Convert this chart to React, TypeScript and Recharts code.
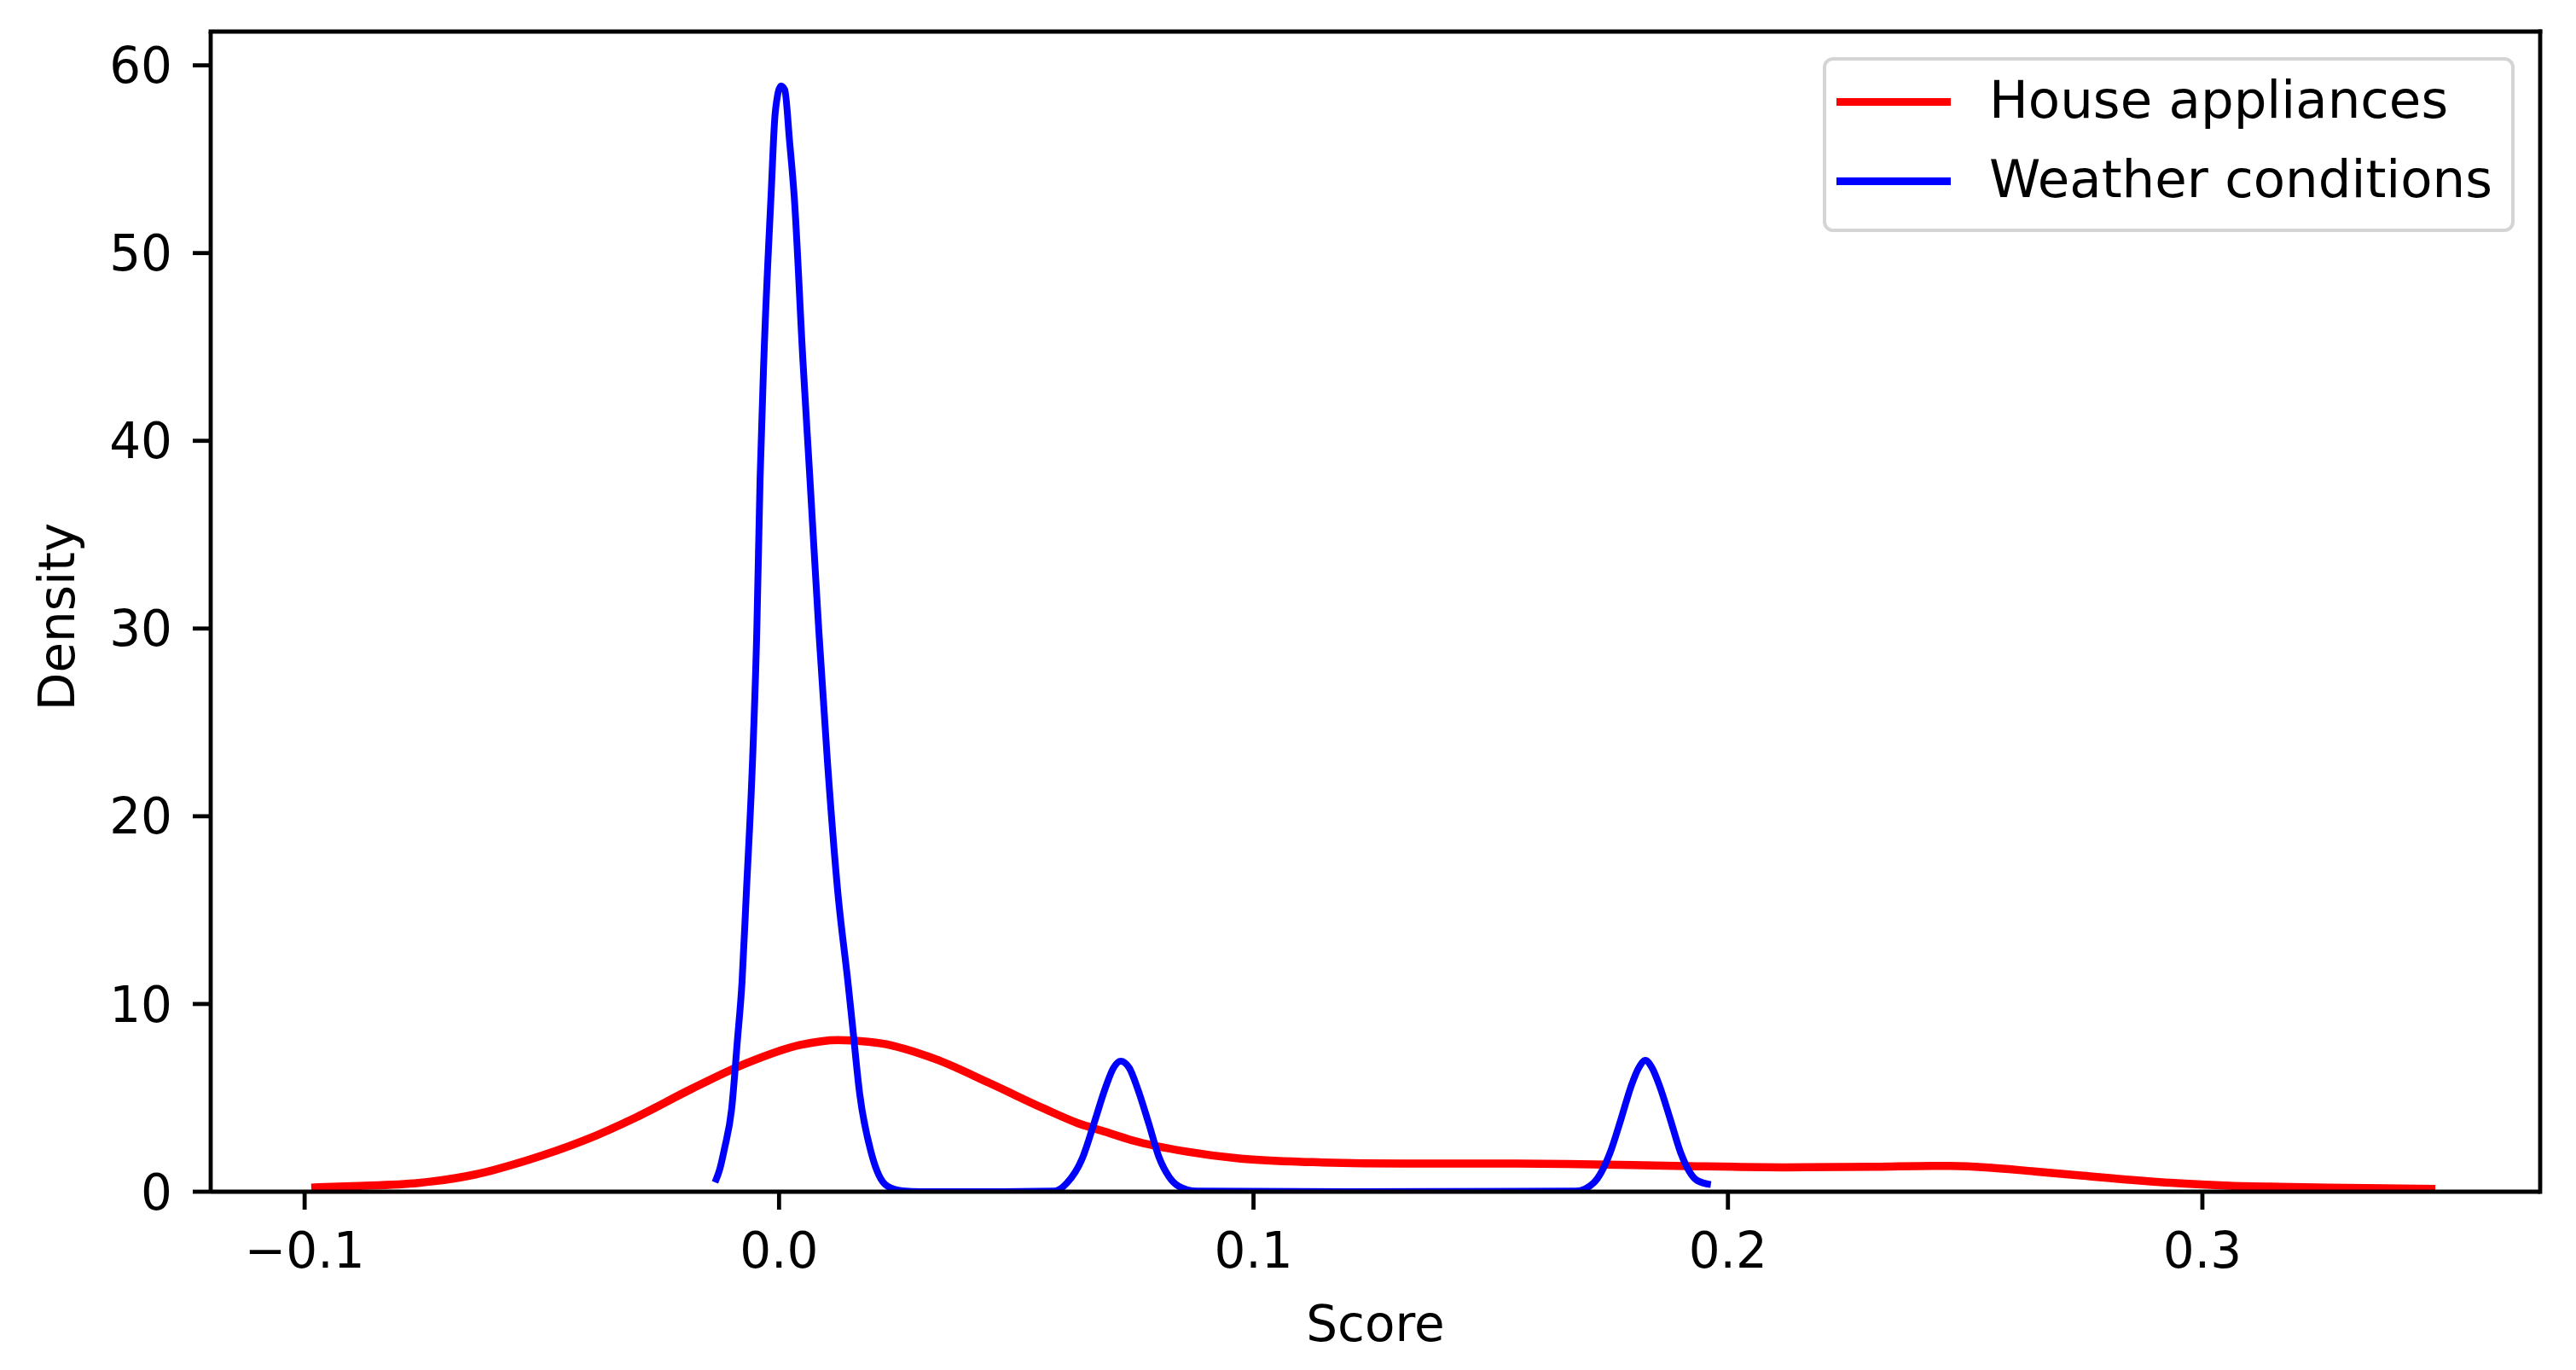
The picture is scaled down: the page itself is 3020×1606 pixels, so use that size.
import { LineChart, Line, XAxis, YAxis, Legend, Label, ReferenceLine } from "recharts";

const houseScores = [
  -0.0986, -0.09, -0.076, -0.064, -0.053, -0.041, -0.03, -0.0185, -0.007, 0.0045,
  0.0124, 0.0215, 0.033, 0.0445, 0.056, 0.063, 0.0686, 0.0744, 0.0858, 0.0973,
  0.1145, 0.1316, 0.1546, 0.166, 0.1889, 0.2118, 0.231, 0.243, 0.2543, 0.2646,
  0.2749, 0.2852, 0.2955, 0.3058, 0.3162, 0.3265, 0.3491,
];
const houseDensity = [
  0.22, 0.3, 0.47, 0.92, 1.68, 2.74, 3.98, 5.47, 6.83, 7.82,
  8.08, 7.9, 7.06, 5.77, 4.41, 3.65, 3.2, 2.74, 2.14, 1.76,
  1.56, 1.5, 1.5, 1.48, 1.38, 1.3, 1.33, 1.38, 1.3, 1.08,
  0.85, 0.62, 0.44, 0.32, 0.26, 0.22, 0.15,
];

const weatherScores = [
  -0.0135, -0.0125, -0.0115, -0.01, -0.0088, -0.0078, -0.0069, -0.0056, -0.0047, -0.004,
  -0.0032, -0.0017, -0.0008, 0.0004, 0.0012, 0.0022, 0.0032, 0.005, 0.0065, 0.0084,
  0.0102, 0.0124, 0.0145, 0.0155, 0.017, 0.0194, 0.021, 0.0228, 0.026, 0.03,
  0.045, 0.058, 0.0607, 0.064, 0.0664, 0.0687, 0.0705, 0.072, 0.0738, 0.0756,
  0.0779, 0.0801, 0.0822, 0.0842, 0.088, 0.12, 0.168, 0.1717, 0.1752, 0.1775,
  0.1797, 0.1812, 0.1826, 0.184, 0.1855, 0.1878, 0.19, 0.1935, 0.1964,
];
const weatherDensity = [
  0.5, 1.2, 2.3, 4.4, 8.0, 11.2, 15.9, 22.9, 29.8, 38,
  44.4, 53, 57.5, 58.9, 58.7, 56, 53, 44.4, 38, 29.8,
  22.9, 15.9, 11.2, 8.8, 5.2, 2.1, 0.9, 0.3, 0.05, 0,
  0, 0.03, 0.47, 1.83, 3.65, 5.47, 6.6, 6.95, 6.6, 5.47,
  3.65, 1.83, 0.8, 0.3, 0.03, 0, 0.03, 0.47, 2.1, 3.9,
  5.7, 6.6, 7.0, 6.6, 5.7, 3.9, 2.1, 0.6, 0.38,
];

const xTicks = [-0.1, 0, 0.1, 0.2, 0.3];
const yTicks = [0, 10, 20, 30, 40, 50, 60];
const xDomain = [-0.1198, 0.3712];
const yDomain = [0, 61.8];

const houseData = houseScores.map((x, i) => ({ x, y: houseDensity[i] }));
const weatherData = weatherScores.map((x, i) => ({ x, y: weatherDensity[i] }));

const FONT = "'DejaVu Sans', sans-serif";
const fmtX = (v: number) => (v < 0 ? "\u2212" + Math.abs(v).toFixed(1) : v.toFixed(1));

function LegendBox({ payload }: any) {
  return (
    <div
      style={{
        position: "relative",
        width: 803,
        height: 197,
        border: "4px solid #d4d4d4",
        borderRadius: 12,
        background: "rgba(255,255,255,0.8)",
        fontFamily: FONT,
        fontSize: 61,
        color: "#000",
      }}
    >
      {(payload || []).map((entry: any, i: number) => (
        <div key={entry.value} style={{ position: "absolute", left: 0, top: 48 + i * 93, height: 0 }}>
          <div
            style={{
              position: "absolute",
              left: 12,
              top: -4.5,
              width: 134,
              height: 9,
              background: entry.color,
            }}
          />
          <div style={{ position: "absolute", left: 191, top: -38, whiteSpace: "nowrap", lineHeight: "72px" }}>
            {entry.value}
          </div>
        </div>
      ))}
    </div>
  );
}

export default function App() {
  return (
    <div style={{ position: "absolute", left: 0, top: 0, width: 3020, height: 1606, background: "#fff" }}>
      <LineChart width={3020} height={1606} margin={{ top: 37, right: 42, bottom: 0, left: 0 }}>
        <XAxis
          dataKey="x"
          type="number"
          domain={xDomain}
          ticks={xTicks}
          tickFormatter={fmtX}
          allowDataOverflow
          height={209}
          stroke="#000"
          strokeWidth={4.8}
          tickSize={21}
          tickMargin={27}
          tick={{ fill: "#000", fontSize: 58, fontFamily: FONT }}
        >
          <Label
            content={({ viewBox }: any) => (
              <text
                x={viewBox.x + viewBox.width / 2}
                y={viewBox.y + 175}
                textAnchor="middle"
                fontSize={58}
                fontFamily={FONT}
                fill="#000"
              >
                Score
              </text>
            )}
          />
        </XAxis>
        <YAxis
          type="number"
          domain={yDomain}
          ticks={yTicks}
          allowDataOverflow
          width={247}
          stroke="#000"
          strokeWidth={4.8}
          tickSize={21}
          tickMargin={24}
          tick={{ fill: "#000", fontSize: 58, fontFamily: FONT }}
        >
          <Label
            content={({ viewBox }: any) => (
              <text
                transform={`translate(87, ${viewBox.y + viewBox.height / 2 + 6}) rotate(-90)`}
                textAnchor="middle"
                fontSize={58}
                fontFamily={FONT}
                fill="#000"
              >
                Density
              </text>
            )}
          />
        </YAxis>
        {/* top and right spines of the axes box */}
        <ReferenceLine y={yDomain[1]} stroke="#000" strokeWidth={4.8} strokeLinecap="square" />
        <ReferenceLine x={xDomain[1]} stroke="#000" strokeWidth={4.8} strokeLinecap="square" />
        <Legend
          layout="vertical"
          align="center"
          verticalAlign="middle"
          content={<LegendBox />}
          wrapperStyle={{ left: 2137, top: 67, width: 811, height: 205 }}
        />
        <Line
          data={houseData}
          dataKey="y"
          name="House appliances"
          type="monotone"
          stroke="#ff0000"
          strokeWidth={9.5}
          dot={false}
          activeDot={false}
          isAnimationActive={false}
        />
        <Line
          data={weatherData}
          dataKey="y"
          name="Weather conditions"
          type="monotone"
          stroke="#0000ff"
          strokeWidth={8}
          dot={false}
          activeDot={false}
          isAnimationActive={false}
        />
      </LineChart>
    </div>
  );
}
